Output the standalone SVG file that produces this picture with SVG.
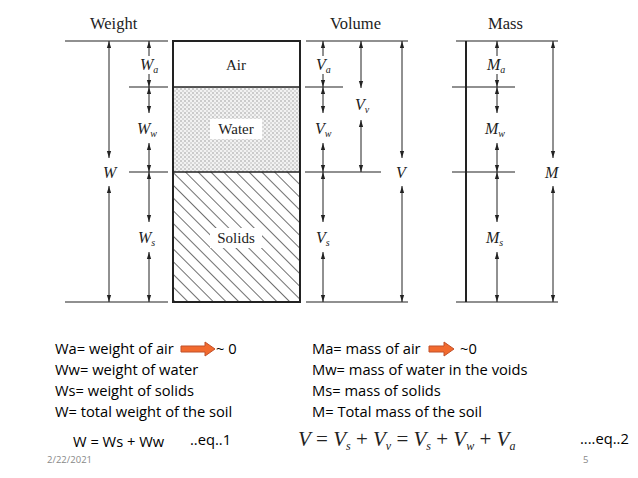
<svg xmlns="http://www.w3.org/2000/svg" width="638" height="478" viewBox="0 0 638 478">
<defs>
<pattern id="dots" width="4" height="4" patternUnits="userSpaceOnUse"><rect width="4" height="4" fill="#f2f2f2"/><circle cx="1" cy="1" r="0.7" fill="#888"/><circle cx="3" cy="3" r="0.7" fill="#aaa"/></pattern>
<pattern id="hatch" width="9" height="9" patternUnits="userSpaceOnUse" patternTransform="rotate(-45)"><rect width="9" height="9" fill="#fff"/><line x1="0" y1="0" x2="0" y2="9" stroke="#222" stroke-width="1.3"/></pattern>
<marker id="ah" viewBox="0 0 10 10" refX="10" refY="5" markerWidth="7" markerHeight="7" orient="auto-start-reverse"><path d="M0,2 L10,5 L0,8 z" fill="#222"/></marker>
</defs>
<style>
.t{font-family:"Liberation Serif",serif;font-size:15px;fill:#222}
.hd{font-family:"Liberation Serif",serif;font-size:16.5px;fill:#222}
.i{font-family:"Liberation Serif",serif;font-size:16px;font-style:italic;fill:#222}
.s{font-family:"Open Sans","Liberation Sans",sans-serif;font-size:14.7px;fill:#000}
.h{stroke:#222;stroke-width:1.2;fill:none}
.d{stroke:#222;stroke-width:1;fill:none;marker-start:url(#ah);marker-end:url(#ah)}
.o{fill:#f26a2e;stroke:#c0502a;stroke-width:1}
</style>
<rect width="638" height="478" fill="#fff"/>
<g id="box">
<rect x="173" y="41" width="127" height="46" fill="#fff"/>
<rect x="173" y="87" width="127" height="85" fill="url(#dots)"/>
<rect x="173" y="172" width="127" height="130" fill="url(#hatch)"/>
<rect x="173" y="41" width="127" height="261" fill="none" stroke="#222" stroke-width="2"/>
<line x1="173" y1="87" x2="300" y2="87" stroke="#222" stroke-width="1.5"/>
<line x1="173" y1="172" x2="300" y2="172" stroke="#222" stroke-width="1.5"/>
<rect x="207" y="54" width="58" height="20" fill="#fff"/><text class="t" x="236" y="70" text-anchor="middle">Air</text>
<rect x="210" y="119" width="52" height="20" fill="#fff"/><text class="t" x="236" y="134" text-anchor="middle">Water</text>
<rect x="210" y="228" width="52" height="20" fill="#fff"/><text class="t" x="236" y="243" text-anchor="middle">Solids</text>
</g>
<g id="headers">
<text class="hd" x="90" y="29">Weight</text>
<text class="hd" x="330" y="29">Volume</text>
<text class="hd" x="488" y="29">Mass</text>
</g>
<g id="connectors">
<line class="h" x1="65" y1="41" x2="168" y2="41"/><line class="h" x1="65" y1="302" x2="168" y2="302"/>
<line class="h" x1="129" y1="87" x2="168" y2="87"/><line class="h" x1="129" y1="172" x2="168" y2="172"/>
<line class="d" x1="109" y1="41" x2="109" y2="158"/><line class="d" x1="109" y1="186" x2="109" y2="302"/>
<line class="d" x1="149" y1="41" x2="149" y2="87"/><line class="d" x1="149" y1="87" x2="149" y2="113"/><line class="d" x1="149" y1="143" x2="149" y2="172"/>
<line class="d" x1="149" y1="172" x2="149" y2="222"/><line class="d" x1="149" y1="252" x2="149" y2="302"/>
<line class="h" x1="306" y1="41" x2="408" y2="41"/><line class="h" x1="306" y1="302" x2="408" y2="302"/>
<line class="h" x1="305" y1="87" x2="343" y2="87"/><line class="h" x1="305" y1="172" x2="381" y2="172"/>
<line class="d" x1="323" y1="41" x2="323" y2="87"/><line class="d" x1="323" y1="87" x2="323" y2="113"/><line class="d" x1="323" y1="143" x2="323" y2="172"/>
<line class="d" x1="323" y1="172" x2="323" y2="222"/><line class="d" x1="323" y1="252" x2="323" y2="302"/>
<line class="d" x1="361" y1="41" x2="361" y2="88"/><line class="d" x1="361" y1="120" x2="361" y2="172"/>
<line class="d" x1="402" y1="41" x2="402" y2="158"/><line class="d" x1="402" y1="186" x2="402" y2="302"/>
<line x1="466" y1="41" x2="466" y2="302" stroke="#222" stroke-width="2"/>
<line class="h" x1="456" y1="41" x2="558" y2="41"/><line class="h" x1="456" y1="302" x2="558" y2="302"/>
<line class="h" x1="452" y1="87" x2="515" y2="87"/><line class="h" x1="452" y1="172" x2="515" y2="172"/>
<line class="d" x1="497" y1="41" x2="497" y2="87"/><line class="d" x1="497" y1="87" x2="497" y2="113"/><line class="d" x1="497" y1="143" x2="497" y2="172"/>
<line class="d" x1="497" y1="172" x2="497" y2="222"/><line class="d" x1="497" y1="252" x2="497" y2="302"/>
<line class="d" x1="553" y1="41" x2="553" y2="158"/><line class="d" x1="553" y1="186" x2="553" y2="302"/>
</g>
<g id="labels">
<rect x="138" y="56" width="22" height="18" fill="#fff"/><text class="i" x="140" y="70">W<tspan font-size="10" dy="3">a</tspan></text>
<rect x="136" y="120" width="26" height="18" fill="#fff"/><text class="i" x="137" y="134">W<tspan font-size="10" dy="3">w</tspan></text>
<text class="i" x="103" y="178">W</text>
<rect x="136" y="229" width="26" height="18" fill="#fff"/><text class="i" x="138" y="243">W<tspan font-size="10" dy="3">s</tspan></text>
<rect x="315" y="56" width="18" height="18" fill="#fff"/><text class="i" x="316" y="70">V<tspan font-size="10" dy="3">a</tspan></text>
<rect x="314" y="120" width="22" height="18" fill="#fff"/><text class="i" x="315" y="134">V<tspan font-size="10" dy="3">w</tspan></text>
<text class="i" x="355" y="110">V<tspan font-size="10" dy="3">v</tspan></text>
<text class="i" x="396" y="178">V</text>
<rect x="314" y="229" width="20" height="18" fill="#fff"/><text class="i" x="316" y="243">V<tspan font-size="10" dy="3">s</tspan></text>
<rect x="486" y="56" width="24" height="18" fill="#fff"/><text class="i" x="487" y="70">M<tspan font-size="10" dy="3">a</tspan></text>
<rect x="484" y="120" width="28" height="18" fill="#fff"/><text class="i" x="485" y="134">M<tspan font-size="10" dy="3">w</tspan></text>
<text class="i" x="545" y="178">M</text>
<rect x="485" y="229" width="24" height="18" fill="#fff"/><text class="i" x="486" y="243">M<tspan font-size="10" dy="3">s</tspan></text>
</g>
<g id="text">
<text class="s" x="55" y="354">Wa= weight of air</text>
<path class="o" d="M181,346 h24 v-4 l10,7 l-10,7 v-4 h-24 z"/>
<text class="s" x="216" y="354">~ 0</text>
<text class="s" x="55" y="375">Ww= weight of water</text>
<text class="s" x="55" y="396">Ws= weight of solids</text>
<text class="s" x="55" y="417">W= total weight of the soil</text>
<text class="s" x="312" y="354">Ma= mass of air</text>
<path class="o" d="M429,346 h15 v-4 l10,7 l-10,7 v-4 h-15 z"/>
<text class="s" x="460" y="354">~0</text>
<text class="s" x="312" y="375">Mw= mass of water in the voids</text>
<text class="s" x="312" y="396">Ms= mass of solids</text>
<text class="s" x="312" y="417">M= Total mass of the soil</text>
<text class="s" x="73" y="447">W = Ws + Ww</text>
<text class="s" x="190" y="445" font-size="13">..eq..1</text>
<text x="298" y="446" font-family="Liberation Serif,serif" font-size="21" fill="#222"><tspan font-style="italic">V</tspan> = <tspan font-style="italic">V<tspan font-size="12" dy="4">s</tspan></tspan><tspan dy="-4"> + </tspan><tspan font-style="italic">V<tspan font-size="12" dy="4">v</tspan></tspan><tspan dy="-4"> = </tspan><tspan font-style="italic">V<tspan font-size="12" dy="4">s</tspan></tspan><tspan dy="-4"> + </tspan><tspan font-style="italic">V<tspan font-size="12" dy="4">w</tspan></tspan><tspan dy="-4"> + </tspan><tspan font-style="italic">V<tspan font-size="12" dy="4">a</tspan></tspan></text>
<text class="s" x="580" y="444" font-size="13">....eq..2</text>
<text x="47" y="463" font-family="Open Sans,sans-serif" font-size="9.5" fill="#888">2/22/2021</text>
<text x="583" y="463" font-family="Open Sans,sans-serif" font-size="9.5" fill="#888">5</text>
</g>
</svg>
